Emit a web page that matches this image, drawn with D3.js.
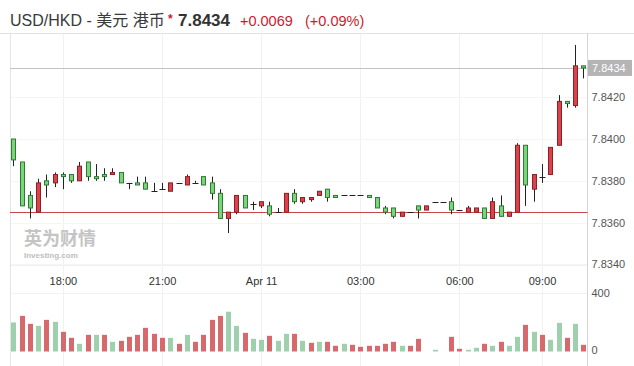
<!DOCTYPE html>
<html><head><meta charset="utf-8">
<script src="https://cdn.jsdelivr.net/npm/d3@7"></script>
<style>
html,body{margin:0;padding:0;background:#fff;}
svg{display:block;font-family:"Liberation Sans",Arial,"Noto Sans CJK SC",sans-serif;}
</style></head>
<body><svg id="c" width="634" height="366"></svg>
<script>
// ---- data (15-minute candles, USD/HKD) ----
const opens  = [7.8400,7.8389,7.8373,7.8365,7.8380,7.8379,7.8383,7.8383,7.8380,7.8389,
                7.8382,7.8383,7.8383,7.8384,7.8379,7.8379,7.8379,7.8375,7.8376,7.8375,
                7.8379,7.8378,7.8379,7.8382,7.8379,7.8374,7.8362,7.8365,7.8373,7.8369,
                7.8368,7.8368,7.8365,7.8365,7.8374,7.8370,7.8371,7.8373,7.8376,7.8373,
                7.8373,7.8373,7.8373,7.8373,7.8372,7.8367,7.8367,7.8363,7.8365,7.8368,
                7.8366,7.8370,7.8370,7.8370,7.8366,7.8365,7.8365,7.8367,7.8362,7.8368,
                7.8363,7.8365,7.8397,7.8376,7.8382,7.8383,7.8397,7.8418,7.8416,7.8435];
const highs  = [7.8400,7.8389,7.8375,7.8381,7.8383,7.8384,7.8384,7.8383,7.8389,7.8389,
                7.8388,7.8386,7.8386,7.8384,7.8379,7.8382,7.8382,7.8379,7.8379,7.8379,
                7.8379,7.8383,7.8380,7.8382,7.8382,7.8376,7.8365,7.8373,7.8373,7.8370,
                7.8370,7.8370,7.8367,7.8374,7.8376,7.8372,7.8372,7.8375,7.8376,7.8373,
                7.8373,7.8373,7.8373,7.8373,7.8372,7.8368,7.8367,7.8365,7.8365,7.8368,
                7.8368,7.8370,7.8370,7.8372,7.8366,7.8368,7.8367,7.8367,7.8372,7.8373,
                7.8365,7.8398,7.8397,7.8383,7.8388,7.8396,7.8421,7.8418,7.8445,7.8435];
const lows   = [7.8387,7.8368,7.8362,7.8365,7.8372,7.8377,7.8376,7.8379,7.8380,7.8380,
                7.8380,7.8380,7.8383,7.8379,7.8376,7.8378,7.8376,7.8375,7.8376,7.8375,
                7.8379,7.8378,7.8379,7.8378,7.8371,7.8362,7.8355,7.8364,7.8367,7.8366,
                7.8367,7.8363,7.8365,7.8365,7.8369,7.8369,7.8370,7.8373,7.8370,7.8372,
                7.8373,7.8373,7.8373,7.8372,7.8367,7.8364,7.8362,7.8363,7.8365,7.8362,
                7.8366,7.8370,7.8370,7.8364,7.8366,7.8365,7.8365,7.8362,7.8362,7.8363,
                7.8363,7.8365,7.8368,7.8370,7.8379,7.8383,7.8397,7.8415,7.8415,7.8429];
const closes = [7.8390,7.8368,7.8367,7.8379,7.8378,7.8383,7.8382,7.8380,7.8387,7.8382,
                7.8381,7.8382,7.8384,7.8379,7.8379,7.8378,7.8376,7.8375,7.8376,7.8379,
                7.8379,7.8382,7.8379,7.8378,7.8374,7.8362,7.8365,7.8373,7.8367,7.8369,
                7.8370,7.8364,7.8365,7.8374,7.8370,7.8372,7.8372,7.8375,7.8372,7.8372,
                7.8373,7.8373,7.8373,7.8372,7.8367,7.8365,7.8363,7.8365,7.8365,7.8366,
                7.8368,7.8370,7.8370,7.8366,7.8366,7.8367,7.8367,7.8362,7.8370,7.8363,
                7.8365,7.8397,7.8378,7.8383,7.8382,7.8396,7.8418,7.8417,7.8435,7.8434];
const volumes = [204,250,194,180,222,208,138,96,54,117,
                 117,117,68,75,103,117,166,124,96,96,
                 54,117,68,117,222,250,279,180,131,89,
                 82,110,75,124,124,75,61,68,68,40,
                 54,47,33,40,40,54,68,40,40,89,
                 0,12,0,103,19,12,26,54,40,68,
                 40,103,187,138,117,82,201,96,194,47];
const volumeUp = [1,0,0,1,0,1,0,0,1,0,
                  1,0,1,0,0,0,0,0,0,1,
                  0,1,0,0,0,0,1,1,0,1,
                  1,0,1,1,0,1,0,1,0,0,
                  1,0,0,0,0,0,0,1,0,0,
                  0,1,0,0,0,1,1,0,1,0,
                  1,1,0,1,0,1,1,0,1,0];
const tickLabels = ["18:00","21:00","Apr 11","03:00","06:00","09:00"];
const tickIndex  = [6,18,30,42,54,64];
const priceTicks = [7.8340,7.8360,7.8380,7.8400,7.8420];
const volTicks   = [0,400];
const prevClose = 7.8365;
const lastPrice = 7.8434;
const titleMain = "USD/HKD - 美元 港币";
const changeAbs = "+0.0069";
const changePct = "(+0.09%)";

// ---- drawing ----
const svg = d3.select("#c");
const W = 634, H = 366;
const L = 10, R = 587.5, TOP = 33.5;

const x = d3.scaleLinear().domain([0, opens.length - 1]).range([13.3, 583.3]);
const y = d3.scaleLinear().domain([7.8340, 7.8400]).range([264.4, 139]);
const yv = d3.scaleLinear().domain([0, 400]).range([351.5, 294.5]);

const crisp = v => Math.round(v) + 0.5;

// grid
const g = svg.append("g");
g.selectAll("line.vg").data(tickIndex).join("line")
  .attr("x1", d => crisp(x(d))).attr("x2", d => crisp(x(d)))
  .attr("y1", TOP).attr("y2", H).attr("stroke", "#f1f1f1");
g.selectAll("line.hg").data(priceTicks).join("line")
  .attr("x1", L).attr("x2", R).attr("y1", d => crisp(y(d))).attr("y2", d => crisp(y(d)))
  .attr("stroke", "#f5f5f5");
g.append("line").attr("x1", L).attr("x2", R).attr("y1", 265.5).attr("y2", 265.5).attr("stroke", "#f1f1f1");
g.append("line").attr("x1", L).attr("x2", R).attr("y1", 293.5).attr("y2", 293.5).attr("stroke", "#f1f1f1");

// frame
svg.append("line").attr("x1", 0).attr("x2", W).attr("y1", TOP).attr("y2", TOP).attr("stroke", "#e2e2e2");
svg.append("line").attr("x1", L + 0.5).attr("x2", L + 0.5).attr("y1", TOP).attr("y2", H).attr("stroke", "#e4e4e4");
svg.append("line").attr("x1", R).attr("x2", R).attr("y1", TOP).attr("y2", H).attr("stroke", "#d4d4d4");

// watermark
svg.append("text").attr("x", 24).attr("y", 245).attr("font-size", 18).attr("font-weight", "bold")
  .attr("font-family", "'Noto Sans CJK SC',sans-serif").attr("fill", "#c4c4c4").text("英为财情");
svg.append("text").attr("x", 24).attr("y", 258).attr("font-size", 8).attr("font-weight", "bold")
  .attr("fill", "#bdbdbd").text("Investing.com");

// previous close & last price lines
svg.append("line").attr("x1", L).attr("x2", R).attr("y1", crisp(y(prevClose))).attr("y2", crisp(y(prevClose)))
  .attr("stroke", "#c9464c");
svg.append("line").attr("x1", L).attr("x2", R).attr("y1", crisp(y(lastPrice))).attr("y2", crisp(y(lastPrice)))
  .attr("stroke", "#c2c2c2");

// candles
const data = opens.map((o, i) => ({i, o, h: highs[i], l: lows[i], c: closes[i], v: volumes[i], vu: volumeUp[i]}));
const cg = svg.append("g");
cg.selectAll("line.wick").data(data.filter(d => d.h !== d.l)).join("line")
  .attr("x1", d => crisp(x(d.i))).attr("x2", d => crisp(x(d.i)))
  .attr("y1", d => y(d.h)).attr("y2", d => y(d.l))
  .attr("stroke", "#222").attr("stroke-width", 1);
cg.selectAll("rect.body").data(data.filter(d => d.o !== d.c)).join("rect")
  .attr("x", d => Math.round(x(d.i)) - 2 + 0.5)
  .attr("y", d => y(Math.max(d.o, d.c)))
  .attr("width", 4)
  .attr("height", d => Math.max(1, y(Math.min(d.o, d.c)) - y(Math.max(d.o, d.c))))
  .attr("fill", d => d.c > d.o ? "#d9434b" : "#79d47c")
  .attr("stroke", d => d.c > d.o ? "#8e1f24" : "#2f7a33").attr("stroke-width", 1);
cg.selectAll("line.doji").data(data.filter(d => d.o === d.c)).join("line")
  .attr("x1", d => Math.round(x(d.i)) - 2.5).attr("x2", d => Math.round(x(d.i)) + 3.5)
  .attr("y1", d => crisp(y(d.o))).attr("y2", d => crisp(y(d.o)))
  .attr("stroke", "#222").attr("stroke-width", 1);

// volume bars
svg.append("g").selectAll("rect").data(data.filter(d => d.v > 0)).join("rect")
  .attr("x", d => Math.round(x(d.i)) - 2)
  .attr("y", d => yv(d.v)).attr("width", 5).attr("height", d => yv(0) - yv(d.v))
  .attr("fill", d => d.vu ? "#9fd0ad" : "#d7696c");

// right axis labels
const axP = d3.axisRight(y).tickValues(priceTicks).tickFormat(d3.format(".4f")).tickSize(0).tickPadding(4);
const ap = svg.append("g").attr("transform", `translate(${R},0)`).call(axP);
ap.select(".domain").remove();
ap.selectAll("text").attr("font-size", 11).attr("fill", "#555").attr("font-family", "'Liberation Sans',Arial,sans-serif");

const axV = d3.axisRight(yv).tickValues(volTicks).tickFormat(d3.format("d")).tickSize(0).tickPadding(4);
const av = svg.append("g").attr("transform", `translate(${R},-1.5)`).call(axV);
av.select(".domain").remove();
av.selectAll("text").attr("font-size", 11).attr("fill", "#555").attr("font-family", "'Liberation Sans',Arial,sans-serif");

// last price tag
svg.append("rect").attr("x", R + 0.5).attr("y", y(lastPrice) - 8).attr("width", 44).attr("height", 16).attr("fill", "#b4b4b4");
svg.append("text").attr("x", R + 4.5).attr("y", y(lastPrice) + 4).attr("font-size", 11).attr("fill", "#fff")
  .text(d3.format(".4f")(lastPrice));

// x axis labels
const axX = d3.axisBottom(x).tickValues(tickIndex).tickFormat((d, k) => tickLabels[k]).tickSize(0).tickPadding(0);
const ax = svg.append("g").attr("transform", "translate(0,277)").call(axX);
ax.select(".domain").remove();
ax.selectAll("text").attr("font-size", 11).attr("fill", "#333").attr("font-family", "'Liberation Sans',Arial,sans-serif");

// title
const t = svg.append("text").attr("x", 10).attr("y", 26);
t.append("tspan").attr("font-size", 16).attr("fill", "#3a3a3a").text(titleMain);
svg.append("text").attr("x", 168).attr("y", 23).attr("font-size", 12).attr("font-weight", "bold").attr("fill", "#d0192e").text("*");
svg.append("text").attr("x", 178).attr("y", 26).attr("font-size", 17).attr("font-weight", "bold").attr("fill", "#333").text(d3.format(".4f")(lastPrice));
svg.append("text").attr("x", 240).attr("y", 26).attr("font-size", 14.5).attr("fill", "#d0192e").text(changeAbs);
svg.append("text").attr("x", 305).attr("y", 26).attr("font-size", 14.5).attr("fill", "#d0192e").text(changePct);
</script></body></html>
